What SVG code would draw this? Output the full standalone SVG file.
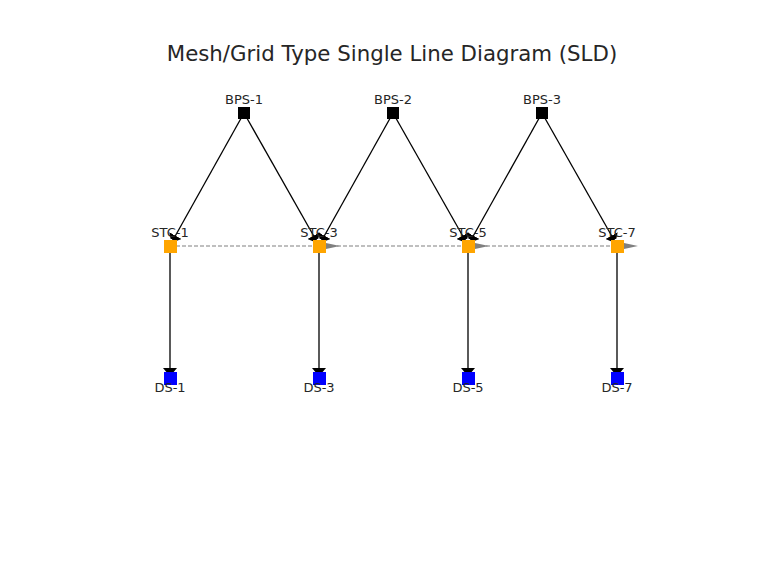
<svg xmlns="http://www.w3.org/2000/svg" width="768" height="576" viewBox="0 0 768 576">
<style>
text{font-family:"DejaVu Sans",sans-serif;font-size:13px;fill:#262626;text-anchor:middle}
.t{font-size:21.3px}
.e{stroke:#000;stroke-width:1.3;fill:none}
.d{stroke:#808080;stroke-width:1.1;stroke-dasharray:4,2;fill:none}
.bps{fill:#000}.stc{fill:#ffa500}.ds{fill:#0000ff}
</style>
<defs>
<marker id="a" viewBox="0 0 10 10" refX="10" refY="5" markerWidth="5" markerHeight="14" markerUnits="userSpaceOnUse" orient="auto" preserveAspectRatio="none"><path d="M0,0L10,3L10,7L0,10z" fill="#000"/></marker>
<marker id="g" viewBox="0 0 10 10" refX="0" refY="5" markerWidth="14" markerHeight="6" markerUnits="userSpaceOnUse" orient="auto" preserveAspectRatio="none"><path d="M0,0L10,5L0,10z" fill="#808080"/></marker>
</defs>
<rect width="768" height="576" fill="#fff"/>
<text class="t" x="392" y="61">Mesh/Grid Type Single Line Diagram (SLD)</text>
<g id="connectors">
<line class="e" x1="244" y1="113" x2="173" y2="240" marker-end="url(#a)"/>
<line class="e" x1="244" y1="113" x2="316" y2="240" marker-end="url(#a)"/>
<line class="e" x1="393" y1="113" x2="322" y2="240" marker-end="url(#a)"/>
<line class="e" x1="393" y1="113" x2="465" y2="240" marker-end="url(#a)"/>
<line class="e" x1="542" y1="113" x2="471" y2="240" marker-end="url(#a)"/>
<line class="e" x1="542" y1="113" x2="614" y2="240" marker-end="url(#a)"/>
<line class="e" x1="170" y1="246" x2="170" y2="373" marker-end="url(#a)"/>
<line class="e" x1="319" y1="246" x2="319" y2="373" marker-end="url(#a)"/>
<line class="e" x1="468" y1="246" x2="468" y2="373" marker-end="url(#a)"/>
<line class="e" x1="617" y1="246" x2="617" y2="373" marker-end="url(#a)"/>
<line class="d" x1="170" y1="246" x2="326" y2="246" marker-end="url(#g)"/>
<line class="d" x1="319" y1="246" x2="475" y2="246" marker-end="url(#g)"/>
<line class="d" x1="468" y1="246" x2="624" y2="246" marker-end="url(#g)"/>
</g>
<g id="BPS-1"><rect class="bps" x="238" y="107" width="12" height="12"/><text x="244" y="104">BPS-1</text></g>
<g id="BPS-2"><rect class="bps" x="387" y="107" width="12" height="12"/><text x="393" y="104">BPS-2</text></g>
<g id="BPS-3"><rect class="bps" x="536" y="107" width="12" height="12"/><text x="542" y="104">BPS-3</text></g>
<g id="STC-1"><rect class="stc" x="164" y="240" width="13" height="13"/><text x="170" y="237">STC-1</text></g>
<g id="STC-3"><rect class="stc" x="313" y="240" width="13" height="13"/><text x="319" y="237">STC-3</text></g>
<g id="STC-5"><rect class="stc" x="462" y="240" width="13" height="13"/><text x="468" y="237">STC-5</text></g>
<g id="STC-7"><rect class="stc" x="611" y="240" width="13" height="13"/><text x="617" y="237">STC-7</text></g>
<g id="DS-1"><rect class="ds" x="164" y="372" width="13" height="13"/><text x="170" y="392">DS-1</text></g>
<g id="DS-3"><rect class="ds" x="313" y="372" width="13" height="13"/><text x="319" y="392">DS-3</text></g>
<g id="DS-5"><rect class="ds" x="462" y="372" width="13" height="13"/><text x="468" y="392">DS-5</text></g>
<g id="DS-7"><rect class="ds" x="611" y="372" width="13" height="13"/><text x="617" y="392">DS-7</text></g>
</svg>
